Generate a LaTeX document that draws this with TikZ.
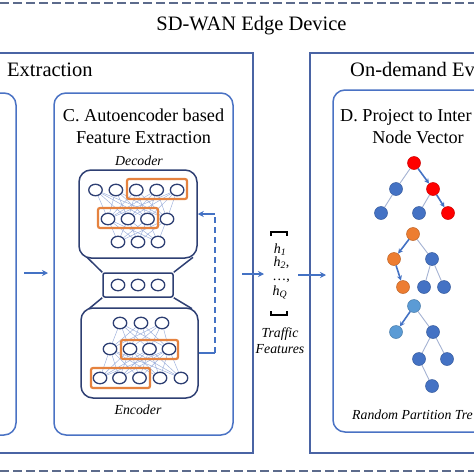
\documentclass[tikz,border=0pt]{standalone}
\usepackage{fontspec}
\setmainfont{Liberation Serif}
\usetikzlibrary{arrows.meta,shapes.geometric}
\definecolor{frameblue}{HTML}{4A64A4}
\definecolor{boxblue}{HTML}{4A72C4}
\definecolor{navy}{HTML}{2E3F73}
\definecolor{hlorange}{HTML}{E5823F}
\definecolor{meshblue}{HTML}{9AAEDB}
\definecolor{treeblue}{HTML}{4472C4}
\definecolor{treered}{HTML}{FF0000}
\definecolor{treeorange}{HTML}{ED7D31}
\definecolor{treelight}{HTML}{5B9BD5}
\definecolor{edgegray}{HTML}{A5B3D3}
\definecolor{dashgray}{HTML}{5C6B8C}
\newcommand{\hsub}[2]{\textit{h}\textsubscript{\textit{#1}}#2}
\begin{document}
\begin{tikzpicture}[x=1pt,y=-1pt,
  bigframe/.style={draw=frameblue,line width=1.8pt,inner sep=0pt},
  roundbox/.style={draw=boxblue,line width=1.5pt,rounded corners=12pt,inner sep=0pt},
  aebox/.style={draw=navy,line width=1.5pt,rounded corners=12pt,inner sep=0pt},
  aeline/.style={draw=navy,line width=1.5pt},
  neuron/.style={ellipse,draw=navy,line width=1.3pt,fill=white,minimum width=13.5pt,minimum height=11.5pt,inner sep=0pt},
  mesh/.style={draw=meshblue,line width=0.45pt},
  hlbox/.style={draw=hlorange,line width=2.2pt,rounded corners=2pt},
  arr/.style={draw=treeblue,line width=1.6pt,-{Stealth[length=6pt,width=6pt]}},
  fbline/.style={draw=treeblue,line width=1.5pt},
  tn/.style={circle,minimum size=13pt,inner sep=0pt,draw=#1!80!black,line width=0.5pt,fill=#1},
  tedge/.style={draw=edgegray,line width=0.9pt},
  tarr/.style={draw=treeblue,line width=1.6pt,-{Stealth[length=5pt,width=5pt]}},
  title/.style={inner sep=0pt,font=\fontsize{20.5}{24}\selectfont},
  head/.style={inner sep=0pt,font=\fontsize{18.2}{22}\selectfont},
  small/.style={inner sep=0pt,font=\itshape\fontsize{13.8}{16}\selectfont},
  vec/.style={inner sep=0pt,font=\fontsize{14}{16}\selectfont}
]
\useasboundingbox (0,0) rectangle (474,474);
\clip (0,0) rectangle (474,474);
\fill[white] (0,0) rectangle (474,474);

% outer dashed device frame
\coordinate (dl) at (0,3); \coordinate (dr) at (474,3);
\coordinate (bl) at (0,471); \coordinate (br) at (474,471);
\draw[dashgray,line width=1.5pt,dash pattern=on 8.5pt off 4.5pt] (dl) -- (dr);
\draw[dashgray,line width=1.5pt,dash pattern=on 8.5pt off 4.5pt] (bl) -- (br);
\node[title,anchor=base] (devt) at (251.5,30) {SD-WAN Edge Device};

% big frames
\node[bigframe,minimum width=293pt,minimum height=400pt] (L) at (106.5,253) {};
\node[bigframe,minimum width=200pt,minimum height=400pt] (R) at (410,253) {};
\node[title,anchor=base west] (Lt) at (7,76) {Extraction};
\node[title,anchor=base west] (Rt) at (350,76) {On-demand Ev};

% rounded boxes
\node[roundbox,minimum width=200pt,minimum height=342pt] (B) at (-84,264) {};
\node[roundbox,minimum width=179pt,minimum height=342pt] (C) at (143.5,264) {};
\node[roundbox,minimum width=190pt,minimum height=342pt] (D) at (428,261) {};

\node[head,anchor=base] (Ct1) at (143.5,121) {C. Autoencoder based};
\node[head,anchor=base] (Ct2) at (143.5,143) {Feature Extraction};
\node[head,anchor=base west] (Dt1) at (340,121) {D. Project to Inter};
\node[head,anchor=base] (Dt2) at (418,143) {Node Vector};

% autoencoder
\node[small,anchor=base] (declab) at (139,165) {Decoder};
\node[small,anchor=base] (enclab) at (138,414) {Encoder};
\node[aebox,minimum width=118pt,minimum height=88pt] (dec) at (138,214) {};
\node[aebox,minimum width=117pt,minimum height=90pt] (enc) at (139.5,353) {};
\node[aeline,rounded corners=2pt,minimum width=70pt,minimum height=24pt,inner sep=0pt] (mid) at (138,285) {};
\draw[aeline] (87,257.3) -- (mid.north west);
\draw[aeline] (193,257.3) -- (mid.north east);
\draw[aeline] (mid.south west) -- (89,308.7);
\draw[aeline] (mid.south east) -- (192,308.7);

% decoder neurons
\foreach \x [count=\i] in {95.5,115.9,136.3,156.7,177.1} \node[neuron] (da\i) at (\x,190) {};
\foreach \x [count=\i] in {108,128,147.5,167} \node[neuron] (db\i) at (\x,219) {};
\foreach \x [count=\i] in {118,138,158} \node[neuron] (dc\i) at (\x,242) {};
\foreach \x [count=\i] in {118,138,158} \node[neuron] (m\i) at (\x,285) {};
% encoder neurons
\foreach \x [count=\i] in {120,141,162} \node[neuron] (ea\i) at (\x,323) {};
\foreach \x [count=\i] in {110,130,149.5,169} \node[neuron] (eb\i) at (\x,349) {};
\foreach \x [count=\i] in {100,119.5,139.5,160,181} \node[neuron] (ec\i) at (\x,378) {};

\foreach \i in {1,...,5} \foreach \j in {1,...,4} \draw[mesh] (da\i) -- (db\j);
\foreach \i in {1,...,4} \foreach \j in {1,...,3} \draw[mesh] (db\i) -- (dc\j);
\foreach \i in {1,...,3} \foreach \j in {1,...,4} \draw[mesh] (ea\i) -- (eb\j);
\foreach \i in {1,...,4} \foreach \j in {1,...,5} \draw[mesh] (eb\i) -- (ec\j);

% highlight boxes
\node[hlbox,minimum width=60pt,minimum height=20pt,inner sep=0pt] (h1) at (157,189) {};
\node[hlbox,minimum width=60pt,minimum height=20pt,inner sep=0pt] (h2) at (128,218) {};
\node[hlbox,minimum width=57pt,minimum height=19pt,inner sep=0pt] (h3) at (149.5,349.5) {};
\node[hlbox,minimum width=59pt,minimum height=20pt,inner sep=0pt] (h4) at (120.5,378) {};

% feedback dashed path
\draw[fbline] (enc.east) -- ++(16,0) coordinate (fbA);
\draw[fbline,dash pattern=on 6pt off 4pt] (fbA) -- (fbA |- dec.east) coordinate (fbB);
\draw[fbline,-{Stealth[length=6pt,width=6pt]}] (fbB) -- (dec.east);

% main arrows
\coordinate (a1s) at (24,273); \coordinate (a1e) at (48,273);
\draw[arr] (a1s) -- (a1e);
\coordinate (a2s) at (242,274); \coordinate (a2e) at (264,274);
\draw[arr] (a2s) -- (a2e);
\coordinate (a3s) at (298,275); \coordinate (a3e) at (326,275);
\draw[arr] (a3s) -- (a3e);

% feature vector
\coordinate (bt1) at (271,236); \coordinate (bt2) at (271,232); \coordinate (bt3) at (287,232); \coordinate (bt4) at (287,236);
\draw[black,line width=2pt] (bt1) -- (bt2) -- (bt3) -- (bt4);
\coordinate (bb1) at (271,311); \coordinate (bb2) at (271,315); \coordinate (bb3) at (287,315); \coordinate (bb4) at (287,311);
\draw[black,line width=2pt] (bb1) -- (bb2) -- (bb3) -- (bb4);
\node[vec,anchor=base] (v1) at (280,253) {\hsub{1}{}};
\node[vec,anchor=base] (v2) at (281.5,266) {\hsub{2}{,}};
\node[vec,anchor=base] (v3) at (281,280) {…,};
\node[vec,anchor=base] (v4) at (280,295) {\hsub{Q}{}};
\node[small,anchor=base] (tf1) at (280,337) {Traffic};
\node[small,anchor=base] (tf2) at (280,353) {Features};

% tree 1
\node[tn=treered] (t1r) at (414,163) {};
\node[tn=treeblue] (t1a) at (396,189) {};
\node[tn=treered] (t1b) at (433,189) {};
\node[tn=treeblue] (t1c) at (381,213) {};
\node[tn=treeblue] (t1d) at (419,213) {};
\node[tn=treered] (t1e) at (448,213) {};
\draw[tedge] (t1r) -- (t1a);
\draw[tedge] (t1a) -- (t1c);
\draw[tedge] (t1b) -- (t1d);
\draw[tarr] (t1r) -- (t1b);
\draw[tarr] (t1b) -- (t1e);
% tree 2
\node[tn=treeorange] (t2r) at (413,234) {};
\node[tn=treeorange] (t2a) at (394,259) {};
\node[tn=treeblue] (t2b) at (432,259) {};
\node[tn=treeorange] (t2c) at (403,287) {};
\node[tn=treeblue] (t2d) at (424,287) {};
\node[tn=treeblue] (t2e) at (444,287) {};
\draw[tedge] (t2r) -- (t2b);
\draw[tedge] (t2b) -- (t2d);
\draw[tedge] (t2b) -- (t2e);
\draw[tarr] (t2r) -- (t2a);
\draw[tarr] (t2a) -- (t2c);
% tree 3
\node[tn=treelight] (t3r) at (414,306) {};
\node[tn=treelight] (t3a) at (396,332) {};
\node[tn=treeblue] (t3b) at (433,332) {};
\node[tn=treeblue] (t3c) at (419,359) {};
\node[tn=treeblue] (t3d) at (447,359) {};
\node[tn=treeblue] (t3e) at (432,386) {};
\draw[tedge] (t3r) -- (t3b);
\draw[tedge] (t3b) -- (t3c);
\draw[tedge] (t3b) -- (t3d);
\draw[tedge] (t3c) -- (t3e);
\draw[tarr] (t3r) -- (t3a);
\node[small,anchor=base west] (rpt) at (352,419) {Random Partition Tre};
\end{tikzpicture}
\end{document}
